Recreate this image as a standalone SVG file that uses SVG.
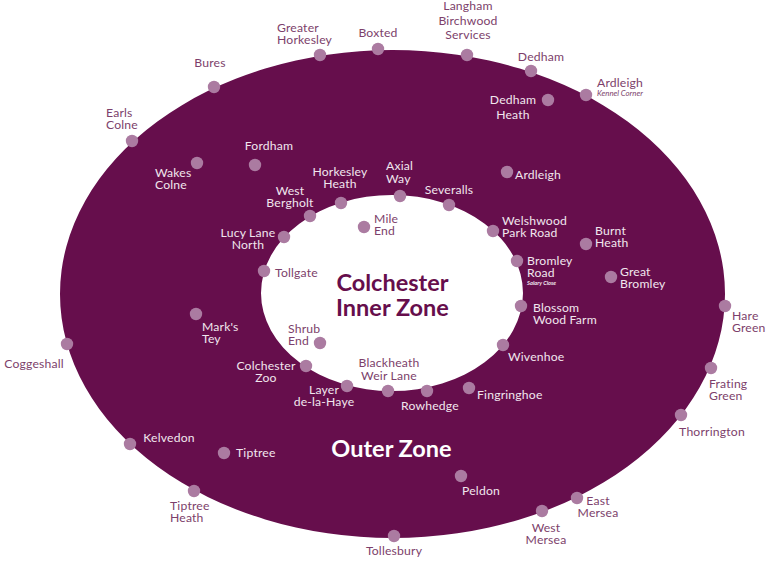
<svg xmlns="http://www.w3.org/2000/svg" width="768" height="563" viewBox="0 0 768 563">
<style>
text{font-family:"Lato","Open Sans",sans-serif;font-size:12.200px;letter-spacing:.18px;text-anchor:middle}
.o{fill:#7d3f6b}
.w{fill:#f1e6ee}
.l{text-anchor:start}
.d{fill:#ab7ba1}
.t{font-weight:700;font-size:23.500px;letter-spacing:0}
</style>
<rect width="768" height="563" fill="#fff"/>
<g id="zones">
<path fill="#660e4c" fill-rule="evenodd" d="M60 294a332.500 244 0 1 0 665 0a332.500 244 0 1 0-665 0zM261 293a131 98 0 1 1 262 0a131 98 0 1 1-262 0z"/>
</g>
<g id="connectors"></g>
<g id="titles">
<text class="t" x="392.500" y="291" fill="#660e4c">Colchester</text>
<text class="t" x="392.500" y="316" fill="#660e4c">Inner Zone</text>
<text class="t" x="391.500" y="456.500" fill="#fff">Outer Zone</text>
</g>
<g id="n-greater-horkesley"><circle class="d" cx="320" cy="55" r="6.200"/><text class="o l" x="277" y="32">Greater</text><text class="o l" x="277" y="44">Horkesley</text></g>
<g id="n-boxted"><circle class="d" cx="378" cy="49" r="6.200"/><text class="o" x="378" y="37">Boxted</text></g>
<g id="n-langham"><circle class="d" cx="467" cy="55" r="6.200"/><text class="o" x="468" y="10">Langham</text><text class="o" x="468" y="25">Birchwood</text><text class="o" x="468" y="39">Services</text></g>
<g id="n-dedham"><circle class="d" cx="531" cy="71" r="6.200"/><text class="o" x="541" y="61">Dedham</text></g>
<g id="n-ardleigh-kennel"><circle class="d" cx="586" cy="95" r="6.200"/><text class="o l" x="597" y="87">Ardleigh</text><text class="l" x="597" y="96" fill="#7d3f6b" style="font-size:7.800px;font-style:italic;letter-spacing:0">Kennel Corner</text></g>
<g id="n-bures"><circle class="d" cx="214" cy="87" r="6.200"/><text class="o" x="210" y="67">Bures</text></g>
<g id="n-earls-colne"><circle class="d" cx="132" cy="141" r="6.200"/><text class="o l" x="106" y="117">Earls</text><text class="o l" x="106" y="129">Colne</text></g>
<g id="n-coggeshall"><circle class="d" cx="67" cy="344" r="6.200"/><text class="o" x="34" y="368">Coggeshall</text></g>
<g id="n-kelvedon"><circle class="d" cx="130" cy="444" r="6.200"/><text class="w" x="169" y="442">Kelvedon</text></g>
<g id="n-tiptree-heath"><circle class="d" cx="194" cy="491" r="6.200"/><text class="o l" x="170" y="510">Tiptree</text><text class="o l" x="170" y="522">Heath</text></g>
<g id="n-tollesbury"><circle class="d" cx="394" cy="536" r="6.200"/><text class="o" x="394" y="555">Tollesbury</text></g>
<g id="n-west-mersea"><circle class="d" cx="542" cy="511" r="6.200"/><text class="o" x="546" y="532">West</text><text class="o" x="546" y="544">Mersea</text></g>
<g id="n-east-mersea"><circle class="d" cx="577" cy="498" r="6.200"/><text class="o" x="598" y="505">East</text><text class="o" x="598" y="517">Mersea</text></g>
<g id="n-thorrington"><circle class="d" cx="681" cy="415" r="6.200"/><text class="o" x="712" y="436">Thorrington</text></g>
<g id="n-frating-green"><circle class="d" cx="711" cy="368" r="6.200"/><text class="o l" x="709" y="388">Frating</text><text class="o l" x="709" y="400">Green</text></g>
<g id="n-hare-green"><circle class="d" cx="725" cy="306" r="6.200"/><text class="o l" x="732" y="320">Hare</text><text class="o l" x="732" y="332">Green</text></g>
<g id="n-dedham-heath"><circle class="d" cx="548" cy="100" r="6.200"/><text class="w" x="513" y="104">Dedham</text><text class="w" x="513" y="119">Heath</text></g>
<g id="n-fordham"><circle class="d" cx="255" cy="165" r="6.200"/><text class="w" x="269" y="150">Fordham</text></g>
<g id="n-wakes-colne"><circle class="d" cx="197" cy="163" r="6.200"/><text class="w l" x="155" y="177">Wakes</text><text class="w l" x="155" y="189">Colne</text></g>
<g id="n-ardleigh"><circle class="d" cx="507" cy="172" r="6.200"/><text class="w l" x="515" y="179">Ardleigh</text></g>
<g id="n-horkesley-heath"><circle class="d" cx="341" cy="203" r="6.200"/><text class="w" x="340" y="176">Horkesley</text><text class="w" x="340" y="188">Heath</text></g>
<g id="n-axial-way"><circle class="d" cx="400" cy="196" r="6.200"/><text class="w l" x="386" y="170">Axial</text><text class="w l" x="386" y="183">Way</text></g>
<g id="n-severalls"><circle class="d" cx="449" cy="205" r="6.200"/><text class="w" x="449" y="194">Severalls</text></g>
<g id="n-west-bergholt"><circle class="d" cx="310" cy="216" r="6.200"/><text class="w" x="290" y="195">West</text><text class="w" x="290" y="207">Bergholt</text></g>
<g id="n-welshwood"><circle class="d" cx="493" cy="231" r="6.200"/><text class="w l" x="502" y="225">Welshwood</text><text class="w l" x="502" y="237">Park Road</text></g>
<g id="n-burnt-heath"><circle class="d" cx="586" cy="244" r="6.200"/><text class="w l" x="595" y="235">Burnt</text><text class="w l" x="595" y="247">Heath</text></g>
<g id="n-lucy-lane"><circle class="d" cx="284" cy="237" r="6.200"/><text class="w" x="248" y="237">Lucy Lane</text><text class="w" x="248" y="249">North</text></g>
<g id="n-mile-end"><circle class="d" cx="364" cy="227" r="6.200"/><text class="o l" x="374" y="223">Mile</text><text class="o l" x="374" y="235">End</text></g>
<g id="n-tollgate"><circle class="d" cx="264" cy="271" r="6.200"/><text class="o l" x="275" y="277">Tollgate</text></g>
<g id="n-bromley-road"><circle class="d" cx="517" cy="261" r="6.200"/><text class="w l" x="527" y="265">Bromley</text><text class="w l" x="527" y="277">Road</text><text class="w l" x="527" y="285" style="font-size:5.700px;font-style:italic;font-weight:700;letter-spacing:0">Salary Close</text></g>
<g id="n-great-bromley"><circle class="d" cx="611" cy="277" r="6.200"/><text class="w l" x="620" y="276">Great</text><text class="w l" x="620" y="288">Bromley</text></g>
<g id="n-blossom"><circle class="d" cx="521" cy="306" r="6.200"/><text class="w l" x="533" y="312">Blossom</text><text class="w l" x="533" y="324">Wood Farm</text></g>
<g id="n-marks-tey"><circle class="d" cx="196" cy="314" r="6.200"/><text class="w l" x="202" y="331">Mark's</text><text class="w l" x="202" y="343">Tey</text></g>
<g id="n-shrub-end"><circle class="d" cx="320" cy="343" r="6.200"/><text class="o l" x="288" y="333">Shrub</text><text class="o l" x="288" y="345">End</text></g>
<g id="n-wivenhoe"><circle class="d" cx="503" cy="345" r="6.200"/><text class="w l" x="508" y="361">Wivenhoe</text></g>
<g id="n-colchester-zoo"><circle class="d" cx="306" cy="366" r="6.200"/><text class="w" x="266" y="370">Colchester</text><text class="w" x="266" y="382">Zoo</text></g>
<g id="n-layer"><circle class="d" cx="347" cy="386" r="6.200"/><text class="w" x="324" y="394">Layer</text><text class="w" x="324" y="406">de-la-Haye</text></g>
<g id="n-blackheath"><circle class="d" cx="388" cy="391" r="6.200"/><text class="o" x="389" y="367">Blackheath</text><text class="o" x="389" y="380">Weir Lane</text></g>
<g id="n-rowhedge"><circle class="d" cx="427" cy="391" r="6.200"/><text class="w" x="430" y="410">Rowhedge</text></g>
<g id="n-fingringhoe"><circle class="d" cx="469" cy="388" r="6.200"/><text class="w l" x="477" y="399">Fingringhoe</text></g>
<g id="n-peldon"><circle class="d" cx="461" cy="476" r="6.200"/><text class="w" x="481" y="495">Peldon</text></g>
<g id="n-tiptree"><circle class="d" cx="224" cy="453" r="6.200"/><text class="w l" x="236" y="457">Tiptree</text></g>
</svg>
